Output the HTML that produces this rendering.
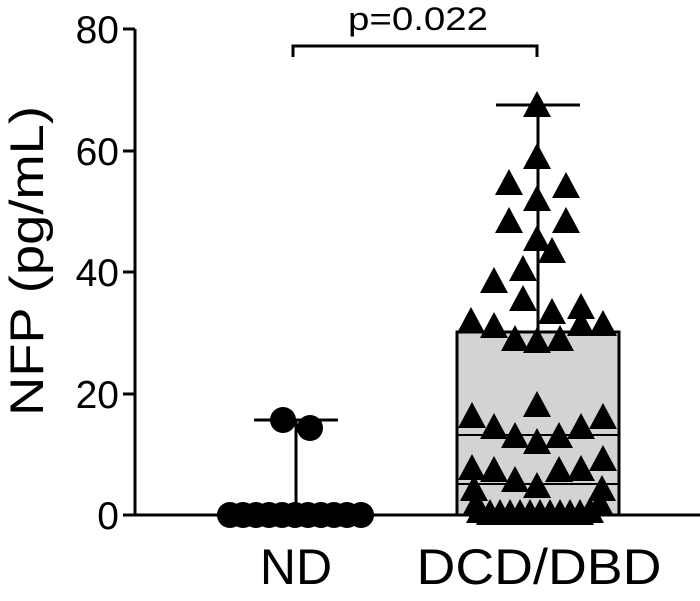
<!DOCTYPE html>
<html><head><meta charset="utf-8"><style>html,body{margin:0;padding:0;background:#fff}svg{display:block}</style></head>
<body>
<svg width="700" height="601" viewBox="0 0 700 601" xmlns="http://www.w3.org/2000/svg" font-family="Liberation Sans, sans-serif">
<defs><path id="t" d="M0,-15 L14,11 L-14,11 Z" fill="#000"/></defs>
<rect x="457" y="332" width="162" height="183" fill="#d3d3d3" stroke="#000" stroke-width="3"/>
<line x1="457" y1="435" x2="619" y2="435" stroke="#000" stroke-width="2"/>
<line x1="457" y1="484" x2="619" y2="484" stroke="#000" stroke-width="2"/>
<line x1="538" y1="105" x2="538" y2="332" stroke="#000" stroke-width="3"/>
<line x1="496" y1="105" x2="580" y2="105" stroke="#000" stroke-width="3"/>
<line x1="296" y1="420" x2="296" y2="515" stroke="#000" stroke-width="3"/>
<line x1="254" y1="420" x2="338" y2="420" stroke="#000" stroke-width="3"/>
<line x1="135" y1="29" x2="135" y2="516" stroke="#000" stroke-width="3"/>
<line x1="134" y1="515" x2="700" y2="515" stroke="#000" stroke-width="3"/>
<g stroke="#000" stroke-width="3">
<line x1="123" y1="29" x2="135" y2="29"/><line x1="123" y1="151" x2="135" y2="151"/>
<line x1="123" y1="272" x2="135" y2="272"/><line x1="123" y1="394" x2="135" y2="394"/>
<line x1="123" y1="515" x2="135" y2="515"/>
</g>
<g font-size="39" text-anchor="end" fill="#000">
<text x="119" y="43">80</text><text x="119" y="165">60</text><text x="119" y="286">40</text><text x="119" y="408">20</text><text x="119" y="529">0</text>
</g>
<text transform="translate(43,261) rotate(-90)" font-size="47" text-anchor="middle" textLength="310" lengthAdjust="spacingAndGlyphs">NFP (pg/mL)</text>
<text x="296" y="584" font-size="50" text-anchor="middle">ND</text>
<text x="539" y="584" font-size="50" text-anchor="middle" textLength="245" lengthAdjust="spacingAndGlyphs">DCD/DBD</text>
<path d="M293,57 V46 H537 V57" fill="none" stroke="#000" stroke-width="3"/>
<text x="418" y="30" font-size="32" text-anchor="middle" textLength="140" lengthAdjust="spacingAndGlyphs">p=0.022</text>
<g fill="#000">
<circle cx="283" cy="420" r="13"/><circle cx="310" cy="428" r="13"/>
<circle cx="230" cy="515" r="13"/><circle cx="243" cy="515" r="13"/><circle cx="256" cy="515" r="13"/><circle cx="269" cy="515" r="13"/><circle cx="282" cy="515" r="13"/><circle cx="295" cy="515" r="13"/><circle cx="308" cy="515" r="13"/><circle cx="321" cy="515" r="13"/><circle cx="334" cy="515" r="13"/><circle cx="347" cy="515" r="13"/><circle cx="361" cy="515" r="13"/>
</g>
<g>
<use href="#t" x="537" y="106"/><use href="#t" x="537" y="158"/><use href="#t" x="509" y="184"/><use href="#t" x="566" y="187"/>
<use href="#t" x="537" y="200"/><use href="#t" x="509" y="222"/><use href="#t" x="566" y="222"/><use href="#t" x="537" y="240"/>
<use href="#t" x="552" y="252"/><use href="#t" x="523" y="270"/><use href="#t" x="494" y="282"/><use href="#t" x="523" y="300"/>
<use href="#t" x="552" y="313"/><use href="#t" x="581" y="308"/><use href="#t" x="471" y="322"/><use href="#t" x="494" y="327"/>
<use href="#t" x="581" y="325"/><use href="#t" x="603" y="325"/><use href="#t" x="515" y="340"/><use href="#t" x="537" y="342"/><use href="#t" x="560" y="340"/>
<use href="#t" x="537" y="406"/><use href="#t" x="472" y="417"/><use href="#t" x="494" y="428"/><use href="#t" x="515" y="437"/>
<use href="#t" x="537" y="443"/><use href="#t" x="559" y="437"/><use href="#t" x="581" y="428"/><use href="#t" x="603" y="418"/>
<use href="#t" x="472" y="469"/><use href="#t" x="494" y="471"/><use href="#t" x="515" y="481"/><use href="#t" x="537" y="487"/>
<use href="#t" x="559" y="471"/><use href="#t" x="581" y="470"/><use href="#t" x="603" y="460"/><use href="#t" x="474" y="490"/><use href="#t" x="602" y="490"/>
<use href="#t" x="476" y="505"/><use href="#t" x="600" y="505"/>
<use href="#t" x="480" y="512"/><use href="#t" x="490" y="514"/><use href="#t" x="500" y="514"/><use href="#t" x="510" y="514"/><use href="#t" x="520" y="514"/><use href="#t" x="530" y="514"/><use href="#t" x="540" y="514"/><use href="#t" x="550" y="514"/><use href="#t" x="560" y="514"/><use href="#t" x="570" y="514"/><use href="#t" x="580" y="514"/><use href="#t" x="590" y="512"/>
</g>
</svg>
</body></html>
